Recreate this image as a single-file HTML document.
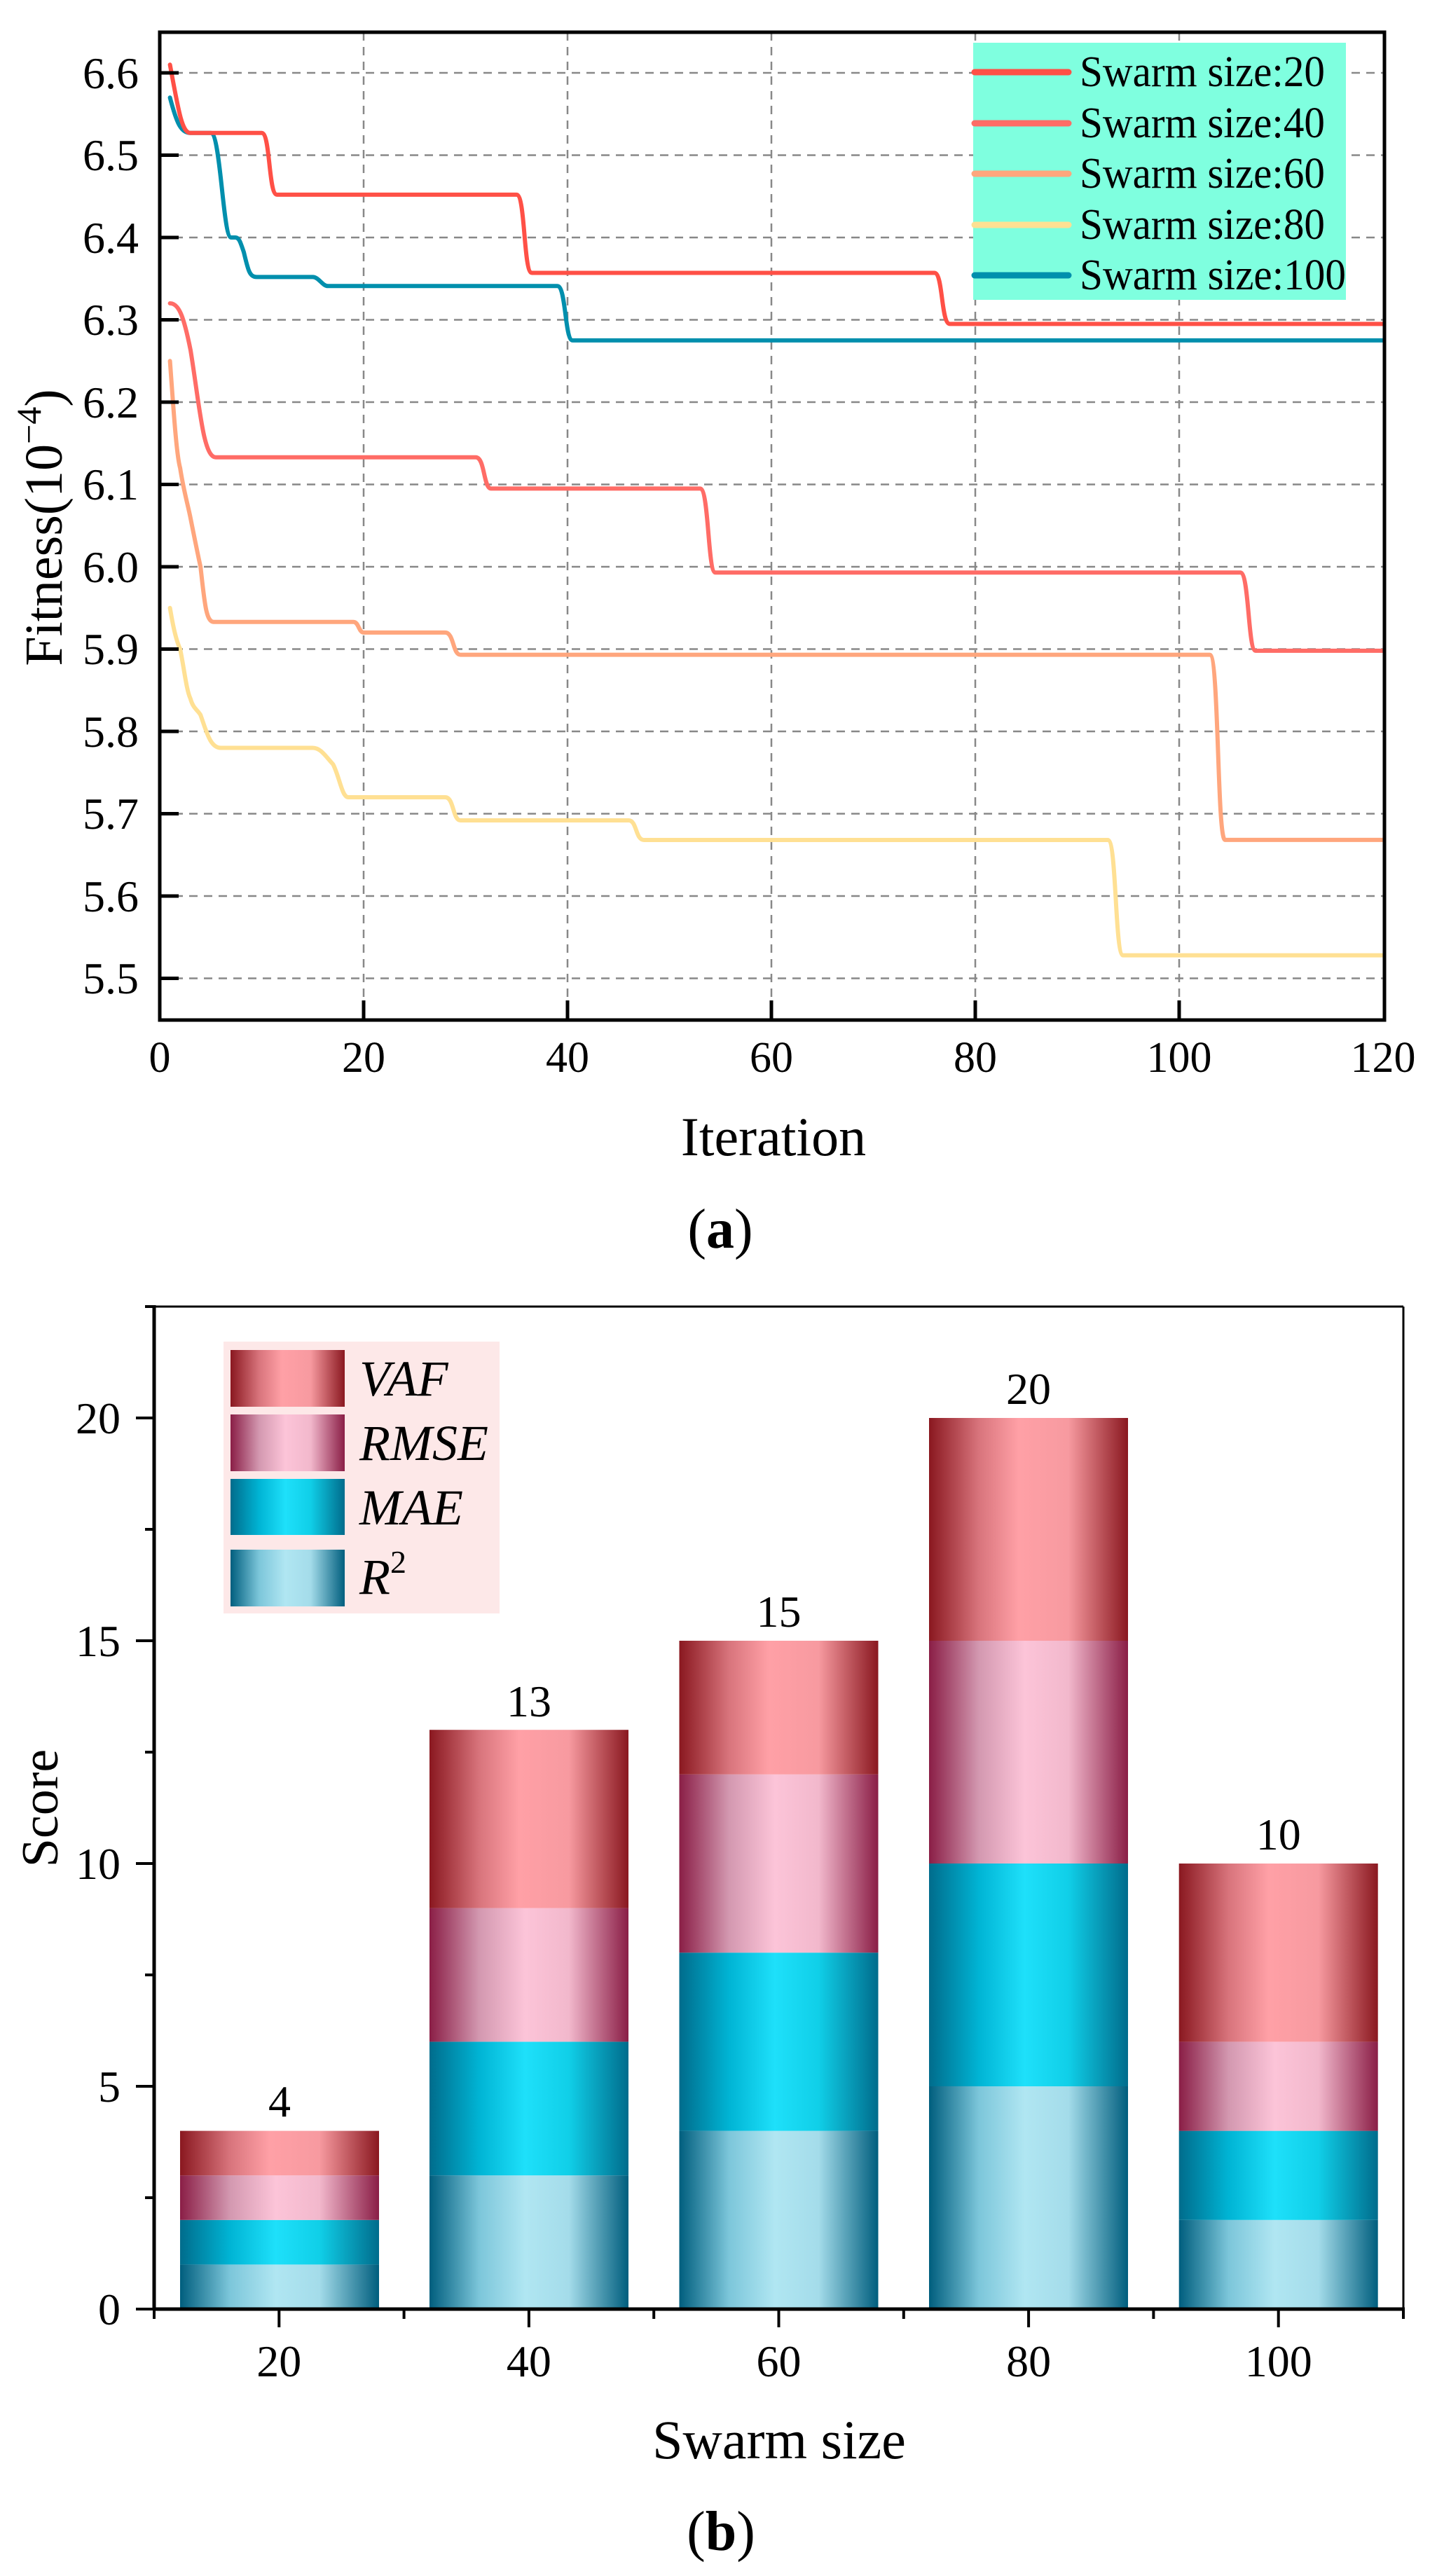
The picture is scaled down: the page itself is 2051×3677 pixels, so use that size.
<!DOCTYPE html>
<html><head><meta charset="utf-8"><style>html,body{margin:0;padding:0;background:#fff}svg{display:block}</style></head>
<body>
<svg width="2051" height="3677" viewBox="0 0 2051 3677" xmlns="http://www.w3.org/2000/svg" font-family="'Liberation Serif', serif">
<defs>
<linearGradient id="gVAF" x1="0" x2="1" y1="0" y2="0"><stop offset="0" stop-color="#8a1820"/><stop offset="0.25" stop-color="#d8747c"/><stop offset="0.45" stop-color="#ffa0a6"/><stop offset="0.7" stop-color="#f79aa0"/><stop offset="1" stop-color="#8a1820"/></linearGradient>
<linearGradient id="gRMSE" x1="0" x2="1" y1="0" y2="0"><stop offset="0" stop-color="#8a1e46"/><stop offset="0.25" stop-color="#d398b0"/><stop offset="0.48" stop-color="#fcc4d8"/><stop offset="0.7" stop-color="#f2b8cc"/><stop offset="1" stop-color="#8a1e46"/></linearGradient>
<linearGradient id="gMAE" x1="0" x2="1" y1="0" y2="0"><stop offset="0" stop-color="#006c8c"/><stop offset="0.25" stop-color="#00b4d4"/><stop offset="0.48" stop-color="#1ee0fa"/><stop offset="0.7" stop-color="#10cfe8"/><stop offset="1" stop-color="#006c8c"/></linearGradient>
<linearGradient id="gR2" x1="0" x2="1" y1="0" y2="0"><stop offset="0" stop-color="#005e7e"/><stop offset="0.25" stop-color="#7cc6da"/><stop offset="0.48" stop-color="#b0e6f2"/><stop offset="0.7" stop-color="#a4dcea"/><stop offset="1" stop-color="#005e7e"/></linearGradient>
</defs>

<g stroke="#888" stroke-width="2.5" stroke-dasharray="12,9" fill="none">
<line x1="228" y1="104" x2="1976" y2="104"/>
<line x1="228" y1="221.5" x2="1976" y2="221.5"/>
<line x1="228" y1="339" x2="1976" y2="339"/>
<line x1="228" y1="456.5" x2="1976" y2="456.5"/>
<line x1="228" y1="574" x2="1976" y2="574"/>
<line x1="228" y1="691.5" x2="1976" y2="691.5"/>
<line x1="228" y1="809" x2="1976" y2="809"/>
<line x1="228" y1="926.5" x2="1976" y2="926.5"/>
<line x1="228" y1="1044" x2="1976" y2="1044"/>
<line x1="228" y1="1161.5" x2="1976" y2="1161.5"/>
<line x1="228" y1="1279" x2="1976" y2="1279"/>
<line x1="228" y1="1396.5" x2="1976" y2="1396.5"/>
<line x1="519" y1="46" x2="519" y2="1456"/>
<line x1="810" y1="46" x2="810" y2="1456"/>
<line x1="1101" y1="46" x2="1101" y2="1456"/>
<line x1="1392" y1="46" x2="1392" y2="1456"/>
<line x1="1683" y1="46" x2="1683" y2="1456"/>
</g>

<g fill="none" stroke-width="6" stroke-linejoin="round" stroke-linecap="round">
<path stroke="#ffe093" d="M242.6,867.8 C248,900 252,915 257.1,926.5 C263,955 266,985 271.7,997 C276,1012 281,1012 286.2,1020.5 C295,1045 300,1067.5 315.3,1067.5 L446.3,1067.5 C458,1067.5 465,1080 475.4,1091 C485,1110 488,1138 497.2,1138 L635.4,1138 C648,1138 646,1171 657.2,1171 L897.3,1171 C909,1171 907,1199 919.1,1199 L1581.2,1199 C1594,1199 1591,1363.6 1603,1363.6 L1974,1363.6"/>
<path stroke="#ffa67d" d="M242.6,515.3 C248,590 252,650 257.1,668 C262,700 268,720 271.7,738.5 C278,770 282,790 286.2,809 C292,860 294,887.7 305,887.7 L504.6,887.7 C512,887.7 512,902.9 519,902.9 L635.4,902.9 C648,902.9 646,934.6 657.2,934.6 L1726.7,934.6 C1740,934.6 1737,1198.9 1748.5,1198.9 L1974,1198.9"/>
<path stroke="#ff6c66" d="M242.6,433 C255,433 262,450 272,500 C285,580 290,652.7 308,652.7 L679.1,652.7 C692,652.7 690,697.4 700.9,697.4 L999.2,697.4 C1012,697.4 1010,817.2 1021,817.2 L1770.3,817.2 C1783,817.2 1781,928.9 1792.1,928.9 L1974,928.9"/>
<path stroke="#008fad" d="M242.6,139.3 C252,175 258,189.8 271.7,189.8 L300.8,189.8 C315,189.8 318,339 329.9,339 L336,339 C341,339 343,345 348,360 C354,385 356,395.4 366.2,395.4 L446.3,395.4 C455,395.4 460,408.3 468.1,408.3 L795.5,408.3 C808,408.3 806,485.9 817.3,485.9 L1974,485.9"/>
<path stroke="#ff5046" d="M242.6,92.3 C255,160 260,189.8 271.7,189.8 L373.5,189.8 C386,189.8 383,277.9 395.3,277.9 L737.3,277.9 C750,277.9 747,389.5 759.1,389.5 L1333.8,389.5 C1346,389.5 1343,462.4 1355.6,462.4 L1974,462.4"/>
</g>

<rect x="228" y="46" width="1748" height="1410" fill="none" stroke="#000" stroke-width="5"/>
<g stroke="#000" stroke-width="5">
<line x1="228" y1="104" x2="255" y2="104"/><line x1="228" y1="221.5" x2="255" y2="221.5"/>
<line x1="228" y1="339" x2="255" y2="339"/><line x1="228" y1="456.5" x2="255" y2="456.5"/>
<line x1="228" y1="574" x2="255" y2="574"/><line x1="228" y1="691.5" x2="255" y2="691.5"/>
<line x1="228" y1="809" x2="255" y2="809"/><line x1="228" y1="926.5" x2="255" y2="926.5"/>
<line x1="228" y1="1044" x2="255" y2="1044"/><line x1="228" y1="1161.5" x2="255" y2="1161.5"/>
<line x1="228" y1="1279" x2="255" y2="1279"/><line x1="228" y1="1396.5" x2="255" y2="1396.5"/>
<line x1="519" y1="1456" x2="519" y2="1428"/><line x1="810" y1="1456" x2="810" y2="1428"/>
<line x1="1101" y1="1456" x2="1101" y2="1428"/><line x1="1392" y1="1456" x2="1392" y2="1428"/>
<line x1="1683" y1="1456" x2="1683" y2="1428"/>
</g>
<g font-size="64" text-anchor="end" fill="#000">
<text x="198" y="126">6.6</text><text x="198" y="243">6.5</text><text x="198" y="361">6.4</text>
<text x="198" y="478">6.3</text><text x="198" y="596">6.2</text><text x="198" y="713">6.1</text>
<text x="198" y="831">6.0</text><text x="198" y="948">5.9</text><text x="198" y="1066">5.8</text>
<text x="198" y="1183">5.7</text><text x="198" y="1301">5.6</text><text x="198" y="1418">5.5</text>
</g>
<g font-size="62" text-anchor="middle">
<text x="228" y="1530">0</text><text x="519" y="1530">20</text><text x="810" y="1530">40</text>
<text x="1101" y="1530">60</text><text x="1392" y="1530">80</text><text x="1683" y="1530">100</text><text x="1974" y="1530">120</text>
</g>
<text x="1104" y="1649" font-size="78" text-anchor="middle">Iteration</text>
<text transform="translate(88,753) rotate(-90)" font-size="76" text-anchor="middle">Fitness(10<tspan font-size="50" dy="-30">−4</tspan><tspan dy="30">)</tspan></text>
<text x="1028" y="1781" font-size="80" text-anchor="middle">(<tspan font-weight="bold">a</tspan>)</text>

<rect x="1389" y="61" width="532" height="367" fill="#7fffdf"/>
<g stroke-width="9" stroke-linecap="round">
<line x1="1391" y1="103" x2="1525" y2="103" stroke="#ff5046"/>
<line x1="1391" y1="176" x2="1525" y2="176" stroke="#ff6c66"/>
<line x1="1391" y1="248" x2="1525" y2="248" stroke="#ffa67d"/>
<line x1="1391" y1="321" x2="1525" y2="321" stroke="#ffe093"/>
<line x1="1391" y1="393" x2="1525" y2="393" stroke="#008fad"/>
</g>
<g font-size="62">
<text x="1541" y="123" textLength="350" lengthAdjust="spacingAndGlyphs">Swarm size:20</text>
<text x="1541" y="196" textLength="350" lengthAdjust="spacingAndGlyphs">Swarm size:40</text>
<text x="1541" y="268" textLength="350" lengthAdjust="spacingAndGlyphs">Swarm size:60</text>
<text x="1541" y="341" textLength="350" lengthAdjust="spacingAndGlyphs">Swarm size:80</text>
<text x="1541" y="413" textLength="380" lengthAdjust="spacingAndGlyphs">Swarm size:100</text>
</g>

<g>
<rect x="257" y="3232.4" width="284" height="63.6" fill="url(#gR2)"/>
<rect x="257" y="3168.8" width="284" height="63.6" fill="url(#gMAE)"/>
<rect x="257" y="3105.2" width="284" height="63.6" fill="url(#gRMSE)"/>
<rect x="257" y="3041.6" width="284" height="63.6" fill="url(#gVAF)"/>
<rect x="613" y="3105.2" width="284" height="190.8" fill="url(#gR2)"/>
<rect x="613" y="2914.4" width="284" height="190.8" fill="url(#gMAE)"/>
<rect x="613" y="2723.6" width="284" height="190.8" fill="url(#gRMSE)"/>
<rect x="613" y="2469.2" width="284" height="254.4" fill="url(#gVAF)"/>
<rect x="969.5" y="3041.6" width="284" height="254.4" fill="url(#gR2)"/>
<rect x="969.5" y="2787.2" width="284" height="254.4" fill="url(#gMAE)"/>
<rect x="969.5" y="2532.8" width="284" height="254.4" fill="url(#gRMSE)"/>
<rect x="969.5" y="2342" width="284" height="190.8" fill="url(#gVAF)"/>
<rect x="1326" y="2978" width="284" height="318" fill="url(#gR2)"/>
<rect x="1326" y="2660" width="284" height="318" fill="url(#gMAE)"/>
<rect x="1326" y="2342" width="284" height="318" fill="url(#gRMSE)"/>
<rect x="1326" y="2024" width="284" height="318" fill="url(#gVAF)"/>
<rect x="1682.7" y="3168.8" width="284" height="127.2" fill="url(#gR2)"/>
<rect x="1682.7" y="3041.6" width="284" height="127.2" fill="url(#gMAE)"/>
<rect x="1682.7" y="2914.4" width="284" height="127.2" fill="url(#gRMSE)"/>
<rect x="1682.7" y="2660" width="284" height="254.4" fill="url(#gVAF)"/>
</g>
<g font-size="64" text-anchor="middle">
<text x="399" y="3021">4</text><text x="755" y="2450">13</text><text x="1111.5" y="2322">15</text>
<text x="1468" y="2004">20</text><text x="1824.7" y="2640">10</text>
</g>

<line x1="220" y1="1865" x2="2003" y2="1865" stroke="#000" stroke-width="3"/>
<line x1="2003" y1="1865" x2="2003" y2="3296" stroke="#000" stroke-width="3"/>
<line x1="220" y1="1863" x2="220" y2="3298" stroke="#000" stroke-width="5"/>
<line x1="218" y1="3296" x2="2005" y2="3296" stroke="#000" stroke-width="5"/>
<g stroke="#000" stroke-width="4">
<line x1="194" y1="3296" x2="220" y2="3296"/><line x1="194" y1="2978" x2="220" y2="2978"/>
<line x1="194" y1="2660" x2="220" y2="2660"/><line x1="194" y1="2342" x2="220" y2="2342"/>
<line x1="194" y1="2024" x2="220" y2="2024"/>
<line x1="207" y1="3137" x2="220" y2="3137"/><line x1="207" y1="2819" x2="220" y2="2819"/>
<line x1="207" y1="2501" x2="220" y2="2501"/><line x1="207" y1="2183" x2="220" y2="2183"/>
<line x1="207" y1="1865" x2="220" y2="1865"/>
<line x1="398.3" y1="3296" x2="398.3" y2="3322"/><line x1="754.9" y1="3296" x2="754.9" y2="3322"/>
<line x1="1111.5" y1="3296" x2="1111.5" y2="3322"/><line x1="1468.1" y1="3296" x2="1468.1" y2="3322"/>
<line x1="1824.7" y1="3296" x2="1824.7" y2="3322"/>
<line x1="220" y1="3296" x2="220" y2="3310"/><line x1="576.6" y1="3296" x2="576.6" y2="3310"/>
<line x1="933.2" y1="3296" x2="933.2" y2="3310"/><line x1="1289.8" y1="3296" x2="1289.8" y2="3310"/>
<line x1="1646.4" y1="3296" x2="1646.4" y2="3310"/><line x1="2003" y1="3296" x2="2003" y2="3310"/>
</g>
<g font-size="64" text-anchor="end">
<text x="172" y="3318">0</text><text x="172" y="3000">5</text><text x="172" y="2682">10</text>
<text x="172" y="2364">15</text><text x="172" y="2046">20</text>
</g>
<g font-size="64" text-anchor="middle">
<text x="398.3" y="3392">20</text><text x="754.9" y="3392">40</text><text x="1111.5" y="3392">60</text>
<text x="1468.1" y="3392">80</text><text x="1824.7" y="3392">100</text>
</g>
<text x="1112" y="3509" font-size="78" text-anchor="middle">Swarm size</text>
<text transform="translate(82,2581) rotate(-90)" font-size="74" text-anchor="middle">Score</text>
<text x="1029" y="3640" font-size="80" text-anchor="middle">(<tspan font-weight="bold">b</tspan>)</text>

<rect x="319" y="1915" width="394" height="388" fill="#fde8e8"/>
<rect x="329" y="1927" width="163" height="81" fill="url(#gVAF)"/>
<rect x="329" y="2019" width="163" height="81" fill="url(#gRMSE)"/>
<rect x="329" y="2111" width="163" height="80" fill="url(#gMAE)"/>
<rect x="329" y="2212" width="163" height="81" fill="url(#gR2)"/>
<g font-size="72" font-style="italic">
<text x="513" y="1992">VAF</text>
<text x="513" y="2084">RMSE</text>
<text x="513" y="2176">MAE</text>
<text x="513" y="2275">R<tspan font-style="normal" font-size="46" dy="-30">2</tspan></text>
</g>
</svg>
</body></html>
